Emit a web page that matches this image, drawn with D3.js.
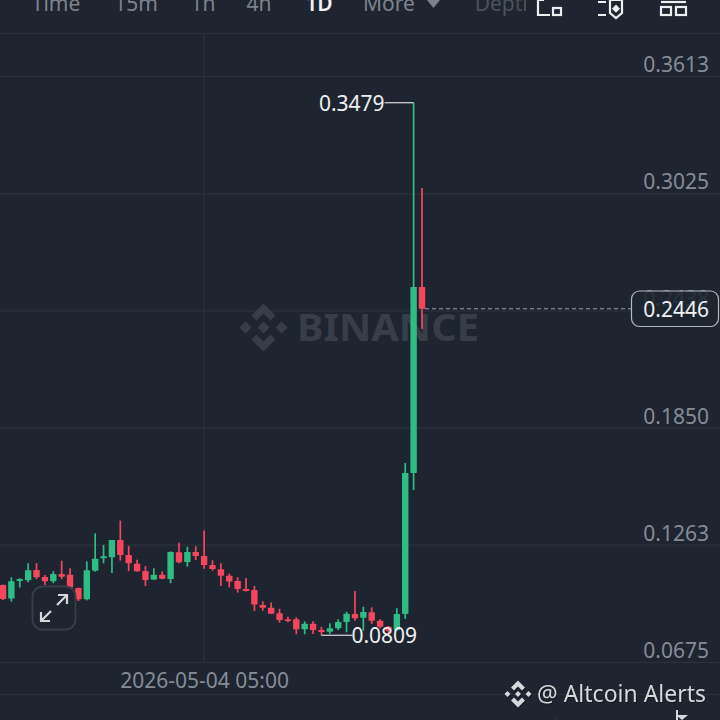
<!DOCTYPE html>
<html>
<head>
<meta charset="utf-8">
<script src="https://cdnjs.cloudflare.com/ajax/libs/d3/7.8.5/d3.min.js"></script>
<style>
    html, body { margin: 0; padding: 0; background: #1e2530; overflow: hidden; }
    svg { display: block; }
    text { font-family: "Noto Sans", sans-serif; }
</style>
</head>
<body>
<div id="chart"></div>
<script>
// candles, one value per day
var opens = [0.1061,0.0993,0.1081,0.1085,0.1136,0.1101,0.1080,0.1116,0.1113,0.1046,
             0.0989,0.1133,0.1195,0.1200,0.1287,0.1212,0.1168,0.1131,0.1088,0.1113,
             0.1091,0.1225,0.1176,0.1227,0.1207,0.1161,0.1140,0.1108,0.1081,0.1041,
             0.1036,0.0961,0.0947,0.0919,0.0889,0.0889,0.0839,0.0867,0.0835,0.0827,
             0.0844,0.0876,0.0916,0.0897,0.0924,0.0882,0.0852,0.0835,0.0916,0.1623,0.2555];
var highs = [0.1063,0.1100,0.1095,0.1170,0.1170,0.1111,0.1130,0.1183,0.1145,0.1048,
             0.1180,0.1320,0.1262,0.1287,0.1384,0.1257,0.1188,0.1156,0.1145,0.1130,
             0.1230,0.1273,0.1253,0.1255,0.1334,0.1185,0.1170,0.1118,0.1100,0.1096,
             0.1056,0.0979,0.0974,0.0942,0.0902,0.0899,0.0879,0.0879,0.0852,0.0869,
             0.0889,0.0927,0.1031,0.0952,0.0949,0.0889,0.0856,0.0944,0.1673,0.3479,0.3052];
var lows = [0.0986,0.0978,0.1048,0.1075,0.1090,0.1061,0.1070,0.1090,0.1044,0.0981,
            0.0984,0.1128,0.1170,0.1121,0.1183,0.1131,0.1128,0.1056,0.1086,0.1090,
            0.1070,0.1170,0.1153,0.1186,0.1143,0.1133,0.1056,0.1049,0.1023,0.1028,
            0.0931,0.0932,0.0916,0.0872,0.0874,0.0814,0.0814,0.0816,0.0809,0.0816,
            0.0835,0.0824,0.0882,0.0832,0.0866,0.0844,0.0819,0.0830,0.0891,0.1537,0.2345];
var closes = [0.0991,0.1080,0.1091,0.1135,0.1100,0.1080,0.1116,0.1103,0.1049,0.0989,
              0.1135,0.1193,0.1205,0.1287,0.1212,0.1170,0.1130,0.1086,0.1113,0.1093,
              0.1227,0.1175,0.1227,0.1207,0.1161,0.1141,0.1108,0.1078,0.1041,0.1031,
              0.0963,0.0947,0.0917,0.0886,0.0881,0.0839,0.0867,0.0835,0.0825,0.0844,
              0.0876,0.0917,0.0894,0.0926,0.0882,0.0852,0.0832,0.0916,0.1623,0.2555,0.2446];

var priceTicks = [0.3613, 0.3025, 0.2438, 0.1850, 0.1263, 0.0675];
var dateTicks = [24];
var dateLabels = ["2026-05-04 05:00"];
var tabs = ["Time", "15m", "1h", "4h", "1D", "More", "Depth"];
var lastPrice = 0.2446;
var maxPrice = 0.3479;
var minPrice = 0.0809;

var width = 720, height = 720;
var bg = "#1e2530", grid = "#2b323c", axisText = "#858c97";
var up = "#2ebd85", down = "#f6465d";

var svg = d3.select("#chart").append("svg")
    .attr("width", width)
    .attr("height", height);

var x = d3.scaleLinear().domain([0, 50]).range([3, 422]);
var y = d3.scaleLinear().domain([0.0675, 0.3613]).range([662, 76]);

//frame lines above and below the plot
svg.append("g").selectAll("line")
    .data([33, 694])
    .enter().append("line")
    .attr("x1", 0).attr("x2", width)
    .attr("y1", function(d){ return d + 0.5; })
    .attr("y2", function(d){ return d + 0.5; })
    .attr("stroke", grid)
    .attr("stroke-width", 1.2);

//price axis, the tick lines double as the grid
var yAxis = d3.axisRight(y)
    .tickValues(priceTicks)
    .tickFormat(d3.format(".4f"))
    .tickSize(width)
    .tickPadding(-11);

var yG = svg.append("g").call(yAxis);
yG.select(".domain").remove();
yG.selectAll("line").attr("stroke", grid).attr("stroke-width", 1.2);
yG.selectAll("text")
    .attr("text-anchor", "end")
    .attr("dy", "-0.22em")
    .attr("fill", axisText)
    .style("font-size", "21px");

//date axis
var xAxis = d3.axisBottom(x)
    .tickValues(dateTicks)
    .tickFormat(function(d, i){ return dateLabels[i]; })
    .tickSize(0)
    .tickPadding(11);

var xG = svg.append("g").attr("transform", "translate(0,662)").call(xAxis);
xG.select(".domain").remove();
xG.selectAll("text")
    .attr("fill", axisText)
    .style("font-size", "21px");

svg.append("g").selectAll("line")
    .data(dateTicks)
    .enter().append("line")
    .attr("x1", function(d){ return x(d); })
    .attr("x2", function(d){ return x(d); })
    .attr("y1", 33).attr("y2", 662)
    .attr("stroke", grid)
    .attr("stroke-width", 1.2);

//watermark goes under the candles
var wm = svg.append("g").attr("fill", "#383e48");
wm.append("g").attr("transform", "translate(263.5,327.5)")
    .selectAll("path")
    .data([
        "M0,-24L12,-12L7,-7L0,-14L-7,-7L-12,-12Z",
        "M0,24L12,12L7,7L0,14L-7,7L-12,12Z",
        "M-24,0L-18,-6L-12,0L-18,6Z",
        "M24,0L18,-6L12,0L18,6Z",
        "M0,-6L6,0L0,6L-6,0Z"
    ])
    .enter().append("path")
    .attr("d", function(d){ return d; });
wm.append("text")
    .attr("x", 297).attr("y", 341)
    .attr("textLength", 182)
    .attr("lengthAdjust", "spacingAndGlyphs")
    .style("font-size", "37px")
    .style("font-weight", "700")
    .text("BINANCE");

//candles
var candles = svg.append("g").selectAll("g")
    .data(d3.range(opens.length))
    .enter().append("g")
    .attr("fill", function(i){ return closes[i] >= opens[i] ? up : down; })
    .attr("stroke", function(i){ return closes[i] >= opens[i] ? up : down; });

candles.append("line")
    .attr("x1", function(i){ return x(i); })
    .attr("x2", function(i){ return x(i); })
    .attr("y1", function(i){ return y(highs[i]); })
    .attr("y2", function(i){ return y(lows[i]); })
    .attr("stroke-width", 1.7);

candles.append("rect")
    .attr("x", function(i){ return x(i) - 3.2; })
    .attr("y", function(i){ return y(Math.max(opens[i], closes[i])); })
    .attr("width", 6.4)
    .attr("height", function(i){ return Math.max(1.5, Math.abs(y(opens[i]) - y(closes[i]))); })
    .attr("rx", 0.6)
    .attr("stroke", "none");

//max and min callouts
var lastIndex = opens.length - 1;
var maxIndex = highs.indexOf(maxPrice);
var minIndex = lows.indexOf(minPrice);

svg.append("line")
    .attr("x1", x(maxIndex)).attr("x2", x(maxIndex) - 29)
    .attr("y1", y(maxPrice)).attr("y2", y(maxPrice))
    .attr("stroke", "#d8dade").attr("stroke-width", 1.2);
svg.append("text")
    .attr("x", x(maxIndex) - 29).attr("y", y(maxPrice) + 8)
    .attr("text-anchor", "end")
    .attr("fill", "#eef0f2")
    .style("font-size", "21px")
    .text(d3.format(".4f")(maxPrice));

svg.append("line")
    .attr("x1", x(minIndex)).attr("x2", x(minIndex) + 31)
    .attr("y1", y(minPrice)).attr("y2", y(minPrice))
    .attr("stroke", "#d8dade").attr("stroke-width", 1.2);
svg.append("text")
    .attr("x", x(minIndex) + 30).attr("y", y(minPrice) + 8)
    .attr("fill", "#eef0f2")
    .style("font-size", "21px")
    .text(d3.format(".4f")(minPrice));

//last price line and box
svg.append("line")
    .attr("x1", x(lastIndex) + 3).attr("x2", 632)
    .attr("y1", y(lastPrice)).attr("y2", y(lastPrice))
    .attr("stroke", "#9aa0a8")
    .attr("stroke-width", 1.2)
    .attr("stroke-dasharray", "4,3");
svg.append("rect")
    .attr("x", 631.5).attr("y", 291)
    .attr("width", 87).attr("height", 35.5)
    .attr("rx", 8)
    .attr("fill", bg).attr("fill-opacity", 0.88)
    .attr("stroke", "#b4b8bd").attr("stroke-width", 1.2);
svg.append("text")
    .attr("x", 709).attr("y", y(lastPrice) + 8)
    .attr("text-anchor", "end")
    .attr("fill", "#f0f1f3")
    .style("font-size", "21px")
    .text(d3.format(".4f")(lastPrice));

//expand button
svg.append("rect")
    .attr("x", 32.5).attr("y", 586.5)
    .attr("width", 43).attr("height", 43)
    .attr("rx", 10)
    .attr("fill", bg)
    .attr("stroke", "#383e48").attr("stroke-width", 1.8);
svg.append("path")
    .attr("d", "M57,605L67,595M58,595H67V604M51,611L41,621M41,612V621H50")
    .attr("fill", "none")
    .attr("stroke", "#d5d7da")
    .attr("stroke-width", 2.2);

//interval tabs, cut off by the top of the screenshot
var tabX = [56, 136, 203, 259, 319, 389, 505];
var tabColor = ["#7d838c", "#7d838c", "#7d838c", "#7d838c", "#f0f1f3", "#7d838c", "#4c525b"];
svg.append("g").selectAll("text")
    .data(tabs)
    .enter().append("text")
    .attr("x", function(d, i){ return tabX[i]; })
    .attr("y", 11)
    .attr("text-anchor", "middle")
    .attr("fill", function(d, i){ return tabColor[i]; })
    .style("font-size", "21px")
    .style("font-weight", function(d){ return d == "1D" ? "600" : "400"; })
    .text(function(d){ return d; });
svg.append("path").attr("d", "M427,0H440L433.5,8Z").attr("fill", "#7d838c");
svg.append("rect").attr("x", 526).attr("y", 0).attr("width", 10).attr("height", 20).attr("fill", bg);

//toolbar icons
var icons = svg.append("g").attr("fill", "none").attr("stroke", "#eceef0").attr("stroke-width", 2.2);
icons.append("path").attr("d", "M538,0V15H550M544,0H538");
icons.append("rect").attr("x", 553).attr("y", 8).attr("width", 8).attr("height", 7);
icons.append("path").attr("d", "M598,2H606M598,15H606M610,0L622,0V13L616,18L610,13V0");
icons.append("rect").attr("x", 614).attr("y", 7).attr("width", 3.5).attr("height", 3.5)
    .attr("fill", "#eceef0").attr("transform", "rotate(45 616 9)");
icons.append("path").attr("d", "M661,2H686");
icons.append("rect").attr("x", 661).attr("y", 7).attr("width", 10).attr("height", 8);
icons.append("rect").attr("x", 676).attr("y", 7).attr("width", 10).attr("height", 8);

//source stamp in the corner
var stamp = svg.append("g").attr("fill", "#d6d8db")
    .style("filter", "drop-shadow(1px 1px 0 #14181e)");
stamp.append("g").attr("transform", "translate(518,694)")
    .selectAll("path")
    .data([
        "M0,-13.5L7,-6.5L4,-3.5L0,-7.5L-4,-3.5L-7,-6.5Z",
        "M0,13.5L7,6.5L4,3.5L0,7.5L-4,3.5L-7,6.5Z",
        "M-13.5,0L-10.5,-3L-7.5,0L-10.5,3Z",
        "M13.5,0L10.5,-3L7.5,0L10.5,3Z",
        "M0,-3L3,0L0,3L-3,0Z"
    ])
    .enter().append("path")
    .attr("d", function(d){ return d; });
stamp.append("text")
    .attr("x", 537).attr("y", 702)
    .style("font-size", "23px")
    .text("@ Altcoin Alerts");

//bits of the next row showing at the bottom edge
svg.append("line").attr("x1", 555.5).attr("x2", 555.5).attr("y1", 715).attr("y2", 720)
    .attr("stroke", grid);
svg.append("path").attr("d", "M676,715H688L682,720ZM676,710H678V720H676Z").attr("fill", "#d6d8db");
</script>
</body>
</html>
